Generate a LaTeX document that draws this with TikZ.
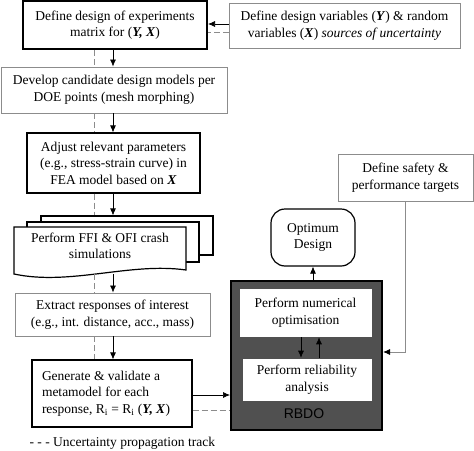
\documentclass[tikz,border=0pt]{standalone}
\usepackage{fontspec}
\setmainfont{Liberation Serif}
\newfontfamily\rbdofont{Liberation Sans}
\usetikzlibrary{arrows.meta}
\definecolor{edgegray}{HTML}{8C8C8C}
\definecolor{rbdogray}{HTML}{505050}
\tikzset{
  mainbox/.style={draw=black, line width=1.2pt, fill=white, align=center, inner sep=0pt},
  thickbox/.style={mainbox, line width=2pt},
  softbox/.style={draw=edgegray, line width=0.9pt, fill=white, align=center, inner sep=0pt},
  innerbox/.style={draw=rbdogray, line width=0.6pt, fill=white, align=center, inner sep=0pt},
  flow/.style={draw=black, line width=0.7pt, -{Latex[length=7pt,width=6pt]}},
  track/.style={draw=edgegray, line width=0.9pt, dash pattern=on 6pt off 3pt},
  feed/.style={draw=edgegray, line width=0.9pt, -{Latex[length=7pt,width=6pt,color=black]}}
}
\newcommand{\bvar}[1]{\textbf{\textit{#1}}}

\begin{document}
\begin{tikzpicture}[x=1pt, y=-1pt, font=\fontsize{13.5}{16.5}\selectfont]
    \useasboundingbox (0,0) rectangle (474,450);
    \coordinate (flowx) at (113,0);
    \coordinate (trackx) at (94,0);

    % left column
    \node[thickbox, minimum width=184pt, minimum height=48pt] (doe) at (115,25) {Define design of experiments\\ matrix for (\bvar{Y, X})};
    \node[softbox, minimum width=231pt, minimum height=45pt] (vars) at (344.5,25.5) {Define design variables (\bvar{Y}) \& random\\ variables (\bvar{X}) \textit{sources of uncertainty}};
    \node[softbox, minimum width=226pt, minimum height=46pt] (morph) at (114,90) {Develop candidate design models per\\ DOE points (mesh morphing)};
    \node[mainbox, minimum width=173pt, minimum height=60pt] (adjust) at (113.5,163) {Adjust relevant parameters\\ (e.g., stress-strain curve) in\\ FEA model based on \bvar{X}};

    % stacked pages for the crash runs
    \node[mainbox, minimum width=172pt, minimum height=39pt] (pageC) at (127,235.5) {};
    \node[mainbox, minimum width=172pt, minimum height=40pt] (pageB) at (113,242) {};
    \draw[line width=1.2pt, fill=white] (14,227) -- (186,227) -- (186,270) .. controls (130,262) and (70,286) .. (14,274) -- cycle;
    \node[align=center] (sim) at (100,246) {Perform FFI \& OFI crash\\ simulations};
    \coordinate (simbot) at (113,274);

    \node[softbox, minimum width=195pt, minimum height=43pt] (extract) at (112.5,314.5) {Extract responses of interest\\ (e.g., int. distance, acc., mass)};
    \node[mainbox, minimum width=160pt, minimum height=67pt, text width=140pt, align=flush left] (meta) at (112,393.5) {Generate \& validate a\\ metamodel for each\\ response, R\textsubscript{i} = R\textsubscript{i} (\bvar{Y, X})};
    \node[anchor=west] (legend) at (26,443) {- - - Uncertainty propagation track};

    % right column
    \node[draw=black, line width=2pt, fill=rbdogray, minimum width=151pt, minimum height=149pt] (rbdo) at (306.5,355.5) {};
    \node[font=\rbdofont\fontsize{14}{16}\selectfont] (rbdolabel) at (304,414) {RBDO};
    \node[innerbox, minimum width=133pt, minimum height=49pt] (numopt) at (305.5,312.5) {Perform numerical\\ optimisation};
    \node[innerbox, minimum width=130pt, minimum height=43pt] (relia) at (307,379.5) {Perform reliability\\ analysis};
    \node[mainbox, rounded corners=14pt, minimum width=84pt, minimum height=57pt] (optimum) at (313,237.5) {Optimum\\ Design};
    \node[softbox, minimum width=135pt, minimum height=47pt] (targets) at (405.5,177.5) {Define safety \&\\ performance targets};

    % connectors
    \draw[flow] ([yshift=1.5pt]vars.west) -- ([yshift=1.5pt]vars.west -| doe.east);
    \draw[track] ([yshift=-6.5pt]vars.west) -- ([yshift=-6.5pt]vars.west -| doe.east);
    \foreach \a/\b in {doe/morph, morph/adjust, adjust/pageC, extract/meta} {
        \draw[flow] (\a.south -| flowx) -- (\b.north -| flowx);
        \draw[track] (\a.south -| trackx) -- (\b.north -| trackx);
    }
    \draw[flow] (simbot) -- (extract.north -| flowx);
    \draw[track] (simbot -| trackx) -- (extract.north -| trackx);

    \draw[flow] ([yshift=-1.5pt]meta.east) -- ([yshift=-1.5pt]meta.east -| rbdo.west);
    \draw[track] ([yshift=-16.5pt]meta.east) -- ([yshift=-16.5pt]meta.east -| rbdo.west);
    \draw[flow] ([xshift=-4.5pt]numopt.south) -- ([xshift=-4.5pt]numopt.south |- relia.north);
    \draw[flow] ([xshift=13.5pt]numopt.south |- relia.north) -- ([xshift=13.5pt]numopt.south);
    \draw[flow] (rbdo.north -| optimum.south) -- (optimum.south);
    \draw[feed] (targets.south) |- ([yshift=3.5pt]rbdo.east);
\end{tikzpicture}
\end{document}
